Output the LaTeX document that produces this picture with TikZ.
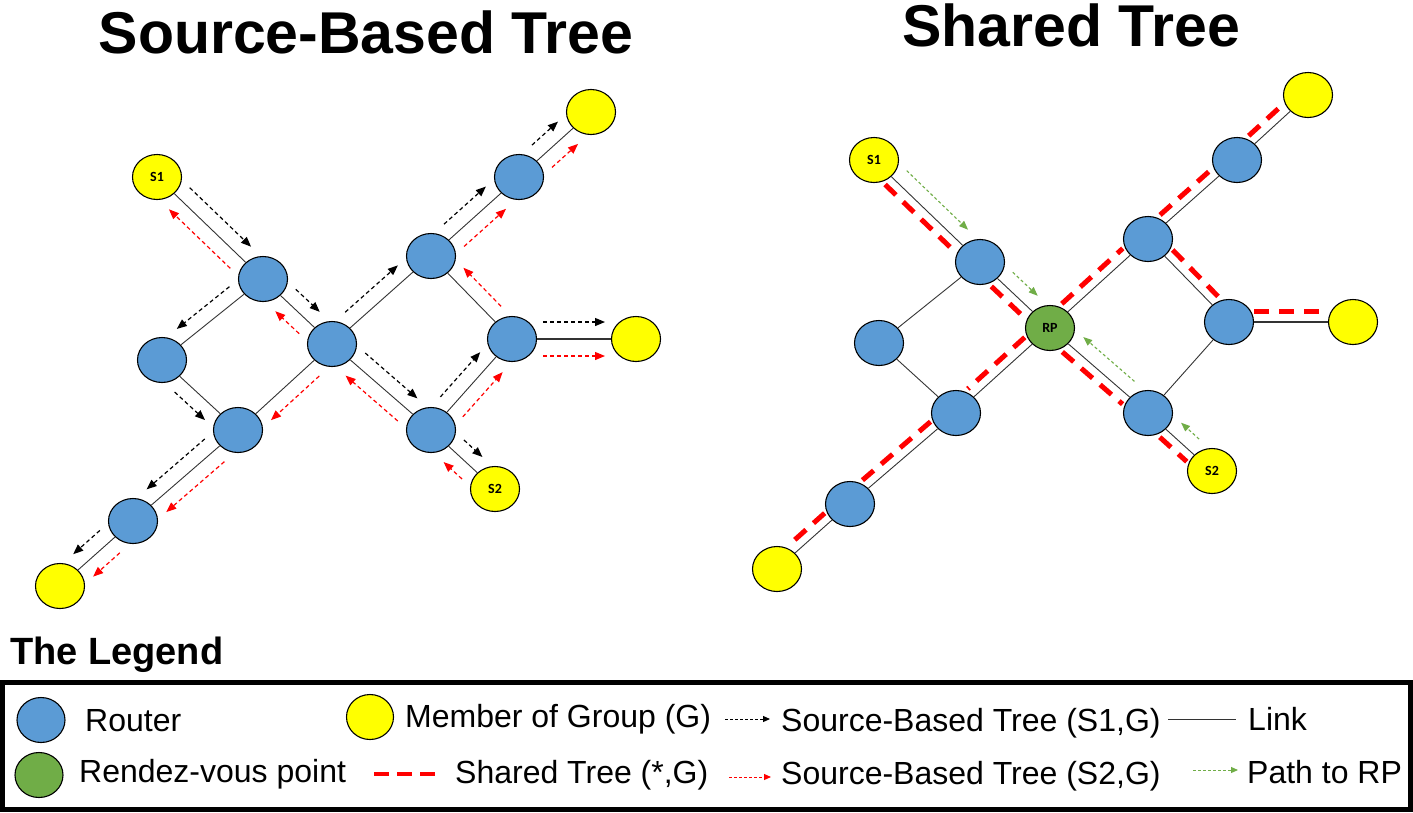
\documentclass[tikz,border=0pt]{standalone}
\usepackage{fontspec}
\setmainfont{Liberation Sans}
\newfontfamily\labelfont{Carlito}
\usepackage{xcolor}
\usepackage{tikz}
\usetikzlibrary{shapes,arrows,positioning,calc,arrows.meta}

\definecolor{routerblue}{HTML}{5B9BD5}
\definecolor{memberyellow}{HTML}{FFFF00}
\definecolor{rpgreen}{HTML}{70AD47}

\tikzset{
  box/.style={ellipse, draw=black, line width=1.1pt, minimum width=49pt, minimum height=45pt, inner sep=0pt, font=\labelfont\bfseries\fontsize{14}{14}\selectfont},
  router/.style={box, fill=routerblue},
  member/.style={box, fill=memberyellow},
  rpoint/.style={box, fill=rpgreen},
  link/.style={black!80, line width=0.9pt},
  sgone/.style={black, line width=1.2pt, dash pattern=on 4pt off 3pt, -{Triangle[length=10pt,width=8pt]}},
  sgtwo/.style={sgone, red},
  torp/.style={rpgreen, line width=1.1pt, dash pattern=on 3pt off 2.5pt, -{Triangle[length=9pt,width=7pt]}},
  shared/.style={red, line width=5pt, dash pattern=on 15pt off 10pt},
  flow/.style={to path={($(\tikztostart)!31pt!(\tikztotarget)!#1!90:(\tikztotarget)$) -- ($(\tikztotarget)!31pt!(\tikztostart)!#1!-90:(\tikztostart)$)}},
  along/.style={to path={($(\tikztostart)!25pt!(\tikztotarget)!#1!90:(\tikztotarget)$) -- ($(\tikztotarget)!25pt!(\tikztostart)!#1!-90:(\tikztostart)$)}},
  legtext/.style={anchor=base west, inner sep=0pt, font=\fontsize{32}{38}\selectfont},
  keytip/.style={line width=1pt, dash pattern=on 3pt off 2pt, -{Triangle[length=7pt,width=6pt]}},
}

\begin{document}
\begin{tikzpicture}[x=1pt,y=-1pt]
\useasboundingbox (0,0) rectangle (1413,812);

% titles
\node[anchor=base, font=\bfseries\fontsize{59}{70}\selectfont] (titleleft) at (366,53) {Source-Based Tree};
\node[anchor=base, font=\bfseries\fontsize{59}{70}\selectfont] (titleright) at (1071,46) {Shared Tree};

% source-based tree
\node[member] (ls1) at (157,177) {S1};
\node[router] (lr1) at (263,279) {};
\node[router] (lr2) at (162,360) {};
\node[router] (lr3) at (238,430) {};
\node[router] (lr4) at (332,344) {};
\node[router] (lr5) at (431,256) {};
\node[router] (lr6) at (519,177) {};
\node[member] (lm1) at (591,112) {};
\node[router] (lr7) at (512,339) {};
\node[member] (lm2) at (636,339) {};
\node[router] (lr8) at (431,430) {};
\node[member] (ls2) at (495,489) {S2};
\node[router] (lr9) at (133,521) {};
\node[member] (lm3) at (60,586) {};

\draw[link] (ls1) -- (lr1) (lr1) -- (lr2) (lr1) -- (lr4) (lr2) -- (lr3) (lr3) -- (lr4)
  (lr4) -- (lr5) (lr5) -- (lr6) (lr6) -- (lm1) (lr5) -- (lr7) (lr4) -- (lr8)
  (lr8) -- (lr7) (lr8) -- (ls2) (lr3) -- (lr9) (lr9) -- (lm3);
\draw[link, line width=1.6pt] (lr7) -- (lm2);

% (S1,G)
\draw[sgone] (ls1) to[flow=15pt] (lr1);
\draw[sgone] (lr1) to[flow=-15pt] (lr2);
\draw[sgone] (lr2) to[flow=-15pt] (lr3);
\draw[sgone] (lr3) to[flow=-15pt] (lr9);
\draw[sgone] (lr9) to[flow=-15pt] (lm3);
\draw[sgone] (lr1) to[flow=15pt] (lr4);
\draw[sgone] (lr4) to[flow=15pt] (lr5);
\draw[sgone] (lr5) to[flow=15pt] (lr6);
\draw[sgone] (lr6) to[flow=15pt] (lm1);
\draw[sgone] (lr4) to[flow=15pt] (lr8);
\draw[sgone] (lr8) to[flow=15pt] (lr7);
\draw[sgone] (lr7) to[flow=17pt] (lm2);
\draw[sgone] (lr8) to[flow=15pt] (ls2);

% (S2,G)
\draw[sgtwo] (ls2) to[flow=15pt] (lr8);
\draw[sgtwo] (lr8) to[flow=15pt] (lr4);
\draw[sgtwo] (lr4) to[flow=15pt] (lr1);
\draw[sgtwo] (lr1) to[flow=15pt] (ls1);
\draw[sgtwo] (lr4) to[flow=15pt] (lr3);
\draw[sgtwo] (lr3) to[flow=15pt] (lr9);
\draw[sgtwo] (lr9) to[flow=15pt] (lm3);
\draw[sgtwo] (lr8) to[flow=-15pt] (lr7);
\draw[sgtwo] (lr7) to[flow=-15pt] (lr5);
\draw[sgtwo] (lr5) to[flow=-15pt] (lr6);
\draw[sgtwo] (lr6) to[flow=-15pt] (lm1);
\draw[sgtwo] (lr7) to[flow=-17pt] (lm2);

% shared tree
\node[member] (rs1) at (874,160) {S1};
\node[router] (rr1) at (980,262) {};
\node[rpoint] (rp) at (1050,328) {RP};
\node[router] (rr2) at (879,343) {};
\node[router] (rr3) at (956,413) {};
\node[router] (rr4) at (850,504) {};
\node[member] (rm3) at (777,569) {};
\node[router] (rr5) at (1148,413) {};
\node[member] (rs2) at (1212,471) {S2};
\node[router] (rr6) at (1148,239) {};
\node[router] (rr7) at (1237,160) {};
\node[member] (rm1) at (1308,95) {};
\node[router] (rr8) at (1229,322) {};
\node[member] (rm2) at (1353,322) {};

\draw[link] (rs1) -- (rr1) (rr1) -- (rr2) (rr1) -- (rp) (rr2) -- (rr3) (rp) -- (rr3)
  (rr3) -- (rr4) (rr4) -- (rm3) (rp) -- (rr5) (rr5) -- (rs2) (rp) -- (rr6)
  (rr6) -- (rr7) (rr7) -- (rm1) (rr6) -- (rr8) (rr8) -- (rr5);
\draw[link, line width=1.6pt] (rr8) -- (rm2);

% (*,G)
\draw[shared] (rs1) to[along=-10pt] (rr1);
\draw[shared] (rr1) to[along=-10pt] (rp);
\draw[shared] (rp) to[along=-10pt] (rr3);
\draw[shared] (rr3) to[along=-10pt] (rr4);
\draw[shared] (rr4) to[along=-10pt] (rm3);
\draw[shared] (rp) to[along=-10pt] (rr5);
\draw[shared] (rr5) to[along=-10pt] (rs2);
\draw[shared] (rp) to[along=10pt] (rr6);
\draw[shared] (rr6) to[along=10pt] (rr7);
\draw[shared] (rr7) to[along=10pt] (rm1);
\draw[shared] (rr6) to[along=10pt] (rr8);
\draw[shared] (rr8) to[along=11pt] (rm2);

% path to RP
\draw[torp] (rs1) to[flow=15pt] (rr1);
\draw[torp] (rr1) to[flow=15pt] (rp);
\draw[torp] (rs2) to[flow=-15pt] (rr5);
\draw[torp] (rr5) to[flow=-15pt] (rp);

% legend
\node[anchor=base west, font=\bfseries\fontsize{38}{44}\selectfont, inner sep=0pt] (legendtitle) at (10,664) {The Legend};
\draw[line width=5pt] (2.5,682.5) rectangle (1410.5,809.5);

\node[router, minimum width=48pt] (keyrouter) at (41,720) {};
\node[legtext] (txtrouter) at (85,731) {Router};
\node[member, minimum width=47pt] (keymember) at (370,717) {};
\node[legtext] (txtmember) at (405,727) {Member of Group (G)};
\coordinate (kone) at (725,719);
\coordinate (konetip) at (770,719);
\draw[keytip, black] (kone) -- (konetip);
\node[legtext] (txtone) at (781,731) {Source-Based Tree (S1,G)};
\coordinate (klink) at (1168,719);
\coordinate (klinkend) at (1236,719);
\draw[link] (klink) -- (klinkend);
\node[legtext] (txtlink) at (1248,730) {Link};

\node[rpoint, minimum width=48pt] (keyrp) at (39,775) {};
\node[legtext] (txtrp) at (79,782) {Rendez-vous point};
\coordinate (kshared) at (374,774);
\coordinate (ksharedend) at (440,774);
\draw[red, line width=4pt, dash pattern=on 15pt off 8pt] (kshared) -- (ksharedend);
\node[legtext] (txtshared) at (455,783) {Shared Tree (*,G)};
\coordinate (ktwo) at (729,777);
\coordinate (ktwotip) at (771,777);
\draw[keytip, red] (ktwo) -- (ktwotip);
\node[legtext] (txttwo) at (781,784) {Source-Based Tree (S2,G)};
\coordinate (kpath) at (1193,770);
\coordinate (kpathtip) at (1238,770);
\draw[keytip, rpgreen] (kpath) -- (kpathtip);
\node[legtext] (txtpath) at (1247,783) {Path to RP};
\end{tikzpicture}
\end{document}
